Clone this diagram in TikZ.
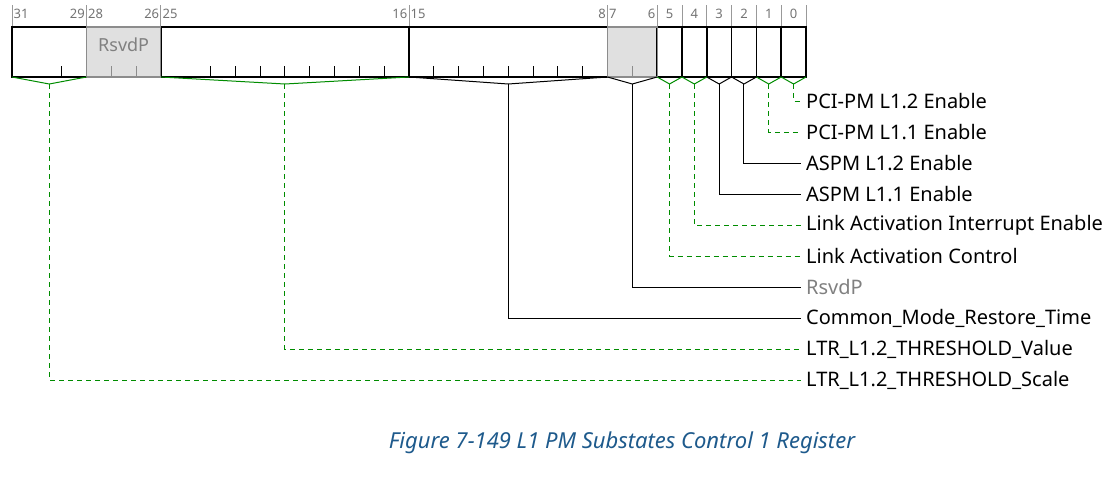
\documentclass[tikz,border=0pt]{standalone}
\usepackage{fontspec}
\setmainfont{Noto Sans}
\begin{document}
\begin{tikzpicture}[x=1pt,y=-1pt,
  fld/.style={draw=black,line width=1.6pt},
  rsv/.style={draw=black!45,line width=1.2pt},
  tick/.style={line width=1.1pt},
  gtick/.style={draw=black!40,line width=0.8pt},
  num/.style={text=black!55,font=\fontsize{13}{13}\selectfont,inner sep=1.5pt},
  gr/.style={draw=green!55!black,line width=1pt,dash pattern=on 5pt off 4pt},
  bl/.style={draw=black,line width=1pt},
  lab/.style={anchor=west,font=\fontsize{20}{20}\selectfont,inner sep=0pt}]
\useasboundingbox (0,0) rectangle (1109,483);
\def\bw{24.8125}
\def\X#1{(806-(#1)*\bw)}
\fill[black!12] ({\X{29}},27) rectangle ({\X{26}},77);
\fill[black!12] ({\X{8}},27) rectangle ({\X{6}},77);
\foreach \b in {30,29,24,23,22,21,20,19,18,17,15,14,13,12,11,10,9}
  \draw[tick] ({\X{\b}},77) -- ({\X{\b}},66);
\foreach \b in {28,27}
  \draw[tick,draw=black!45] ({\X{\b}},77) -- ({\X{\b}},66);
\draw[tick,draw=black!45] ({\X{7}},77) -- ({\X{7}},66);
\foreach \b in {32,29,26,16,8,6,5,4,3,2,1,0}
  \draw[gtick] ({\X{\b}},5) -- ({\X{\b}},27);
\draw[fld] ({\X{32}},27) rectangle ({\X{0}},77);
\foreach \b in {29,26,16,8,6,5,4,3,2,1}
  \draw[fld] ({\X{\b}},27) -- ({\X{\b}},77);
\draw[rsv] ({\X{29}},27) rectangle ({\X{26}},77);
\draw[rsv] ({\X{8}},27) rectangle ({\X{6}},77);
\node[text=black!50,font=\fontsize{18}{18}\selectfont] (rsv1) at ({\X{27.5}},45) {RsvdP};
\foreach \n/\p/\a in {31/32/west,29/29/east,28/29/west,26/26/east,25/26/west,16/16/east,15/16/west,8/8/east,7/8/west,6/6/east}
  \node[num,anchor=\a] (n\n) at ({\X{\p}},14) {\n};
\foreach \n in {5,4,3,2,1,0}
  \node[num] (m\n) at ({\X{\n}-\bw/2},14) {\n};
\foreach \i/\t/\c in {1/PCI-PM L1.2 Enable/black,2/PCI-PM L1.1 Enable/black,3/ASPM L1.2 Enable/black,4/ASPM L1.1 Enable/black,5/Link Activation Interrupt Enable/black,6/Link Activation Control/black,7/RsvdP/black!50,8/Common\_Mode\_Restore\_Time/black,9/LTR\_L1.2\_THRESHOLD\_Value/black,10/LTR\_L1.2\_THRESHOLD\_Scale/black}
  \node[lab,text=\c] (t\i) at (806,{70+31*\i}) {\t};
\foreach \hi/\lo/\i/\s in {0/0/1/gr,1/1/2/gr,2/2/3/bl,3/3/4/bl,4/4/5/gr,5/5/6/gr,7/6/7/bl,15/8/8/bl,25/16/9/gr,31/29/10/gr}{
  \coordinate (L\i) at ({\X{\hi+1}},77);
  \coordinate (R\i) at ({\X{\lo}},77);
  \coordinate (C\i) at ({(\X{\hi+1}+\X{\lo})/2},84);
  \draw[\s,solid,line join=round] (L\i) -- (C\i) -- (R\i);
  \draw[\s] (C\i) |- ([xshift=-5pt]t\i.west);
}
\node[font=\itshape\fontsize{22}{22}\selectfont,text={rgb,255:red,30;green,90;blue,140}] (cap) at (622,443) {Figure 7-149 L1 PM Substates Control 1 Register};
\end{tikzpicture}
\end{document}
